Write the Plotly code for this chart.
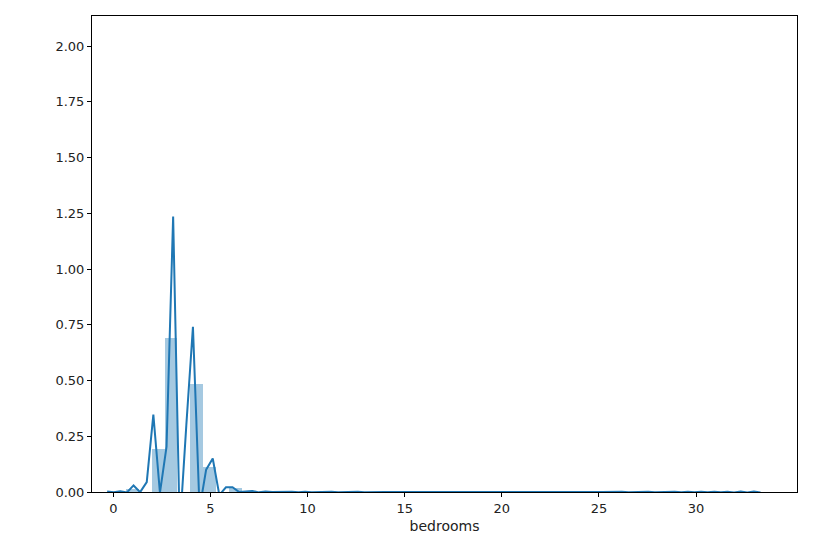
import numpy as np
import plotly.graph_objects as go

bedrooms = [0, 1, 2, 3, 4, 5, 6, 7, 8, 9, 10, 11, 33]
counts = [13, 199, 2760, 9824, 6882, 1601, 272, 38, 13, 6, 3, 1, 1]
xticks = [0, 5, 10, 15, 20, 25, 30]
yticks = [0, 0.25, 0.5, 0.75, 1.0, 1.25, 1.5, 1.75, 2.0]

b = np.array(bedrooms, float)
c = np.array(counts, float)
n = c.sum()

# histogram (50 bins, density)
edges = np.linspace(0, 33, 51)
hist, _ = np.histogram(b, bins=edges, weights=c, density=True)
centers = (edges[:-1] + edges[1:]) / 2
width = edges[1] - edges[0]

# FFT kernel density estimate (as statsmodels, gridsize 100, cut 3, scott bw)
data = np.repeat(b, c.astype(int))
iqr = np.percentile(data, 75) - np.percentile(data, 25)
A = min(np.std(data, ddof=1), iqr / 1.349)
bw = 1.059 * A * n ** (-0.2)
M = 100
a0, b0 = b.min() - 3 * bw, b.max() + 3 * bw
grid, delta = np.linspace(a0, b0, M, retstep=True)
binned = np.zeros(M)
for xv, w in zip(b, c):
    pos = (xv - a0) / delta
    ix = int(np.floor(pos)); fx = pos - ix
    if 0 <= ix < M - 1:
        binned[ix] += w * (1 - fx); binned[ix + 1] += w * fx
    elif ix == M - 1:
        binned[ix] += w
binned /= (delta * n)
y = np.fft.rfft(binned) / M
J = np.arange(M / 2 + 1)
FAC = np.exp(-J ** 2 * 2 * (np.pi * bw / (b0 - a0)) ** 2) / (1 - (1 / 3) * (J / M * np.pi) ** 2)
dens = np.fft.irfft(y * FAC, M) * M

color = "#1f77b4"
fig = go.Figure()
fig.add_trace(go.Bar(x=centers, y=hist, width=width, marker=dict(color="rgba(31,119,180,0.4)", line=dict(width=0))))
fig.add_trace(go.Scatter(x=grid, y=dens, mode="lines", line=dict(color=color, width=2)))

axis_common = dict(showline=True, linecolor="black", linewidth=1, mirror=True, ticks="outside",
                   ticklen=4, tickcolor="black", showgrid=False, zeroline=False,
                   tickfont=dict(family="DejaVu Sans", size=13, color="#222"))
fig.update_layout(
    width=814, height=552, margin=dict(l=84, r=25, t=8, b=68),
    plot_bgcolor="white", paper_bgcolor="white", showlegend=False, bargap=0,
    xaxis=dict(range=[-1.1, 35.2], tickvals=xticks,
               title=dict(text="bedrooms", font=dict(family="DejaVu Sans", size=14, color="#222"), standoff=6),
               **axis_common),
    yaxis=dict(range=[0, 2.135], tickvals=yticks, tickformat=".2f", **axis_common),
)
fig.write_html("out.html")
